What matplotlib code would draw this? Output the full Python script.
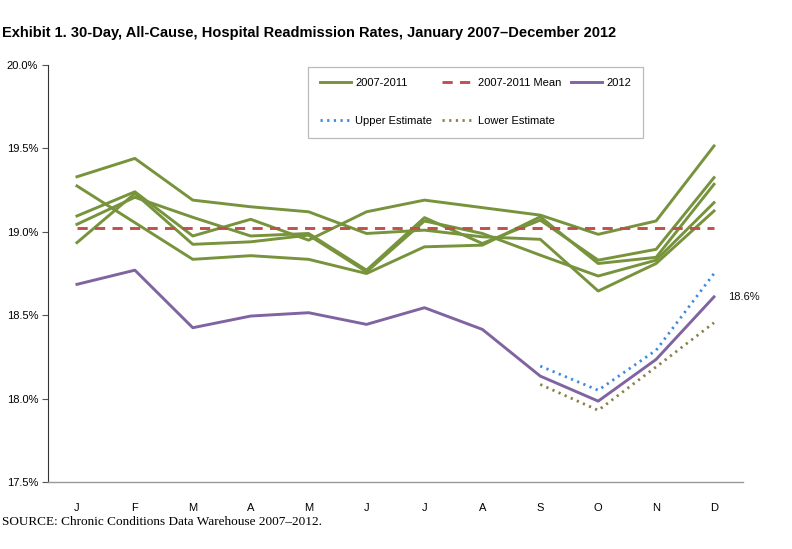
import matplotlib
matplotlib.use("Agg")
import matplotlib.pyplot as plt
from matplotlib.ticker import FuncFormatter
import numpy as np

months = ["J", "F", "M", "A", "M", "J", "J", "A", "S", "O", "N", "D"]

# 2007-2011 individual years (percent)
line_a = [19.33, 19.44, 19.19, 19.15, 19.12, 18.99, 19.01, 18.97, 18.955, 18.645, 18.81, 19.125]
line_b = [19.095, 19.24, 18.975, 19.075, 18.95, 19.12, 19.19, 19.145, 19.10, 18.985, 19.065, 19.515]
line_c = [19.275, 19.055, 18.835, 18.857, 18.835, 18.75, 18.91, 18.92, 19.09, 18.81, 18.847, 19.285]
line_d = [19.045, 19.207, 19.087, 18.975, 18.99, 18.77, 19.085, 18.93, 19.07, 18.83, 18.895, 19.325]
line_e = [18.935, 19.23, 18.925, 18.94, 18.98, 18.76, 19.065, 18.99, 18.86, 18.735, 18.83, 19.175]
mean_0711 = [19.02] * 12

rate_2012 = [18.685, 18.77, 18.425, 18.495, 18.515, 18.445, 18.545, 18.415, 18.135, 17.985, 18.235, 18.61]
est_months = [8, 9, 10, 11]
upper_est = [18.195, 18.05, 18.29, 18.75]
lower_est = [18.085, 17.93, 18.19, 18.455]

yticks = [17.5, 18.0, 18.5, 19.0, 19.5, 20.0]

GREEN = "#77933C"
RED = "#C0504D"
PURPLE = "#8064A2"
BLUE = "#3C8AE0"
OLIVE = "#8C7F4A"

plt.rcParams["font.family"] = ["Liberation Sans Narrow", "Liberation Sans", "DejaVu Sans"]

fig = plt.figure(figsize=(7.92, 5.49), dpi=100)
ax = fig.add_axes([0.0606, 0.122, 0.8775, 0.7596])

x = np.arange(len(months))
lw = 2.1
for i, ln in enumerate([line_a, line_b, line_c, line_d, line_e]):
    ax.plot(x, ln, color=GREEN, lw=lw, label="2007-2011" if i == 0 else None, zorder=3)
ax.plot(x, mean_0711, color=RED, lw=lw, ls=(0, (3.5, 2.5)), label="2007-2011 Mean", zorder=4)
ax.plot(x, rate_2012, color=PURPLE, lw=lw, label="2012", zorder=3)
ax.plot(est_months, upper_est, color=BLUE, lw=2.0, ls=(0, (0.8, 1.6)), label="Upper Estimate", zorder=3)
ax.plot(est_months, lower_est, color=OLIVE, lw=2.0, ls=(0, (0.8, 1.6)), label="Lower Estimate", zorder=3)

ax.annotate("18.6%", xy=(11, rate_2012[-1]), xytext=(10, 0), textcoords="offset points",
            fontsize=8, va="center", ha="left", color="#111111")

ax.set_xlim(-0.5, 11.5)
ax.set_ylim(17.5, 20.0)
ax.set_xticks(x)
ax.set_xticklabels(months, fontsize=8)
ax.set_yticks(yticks)
ax.yaxis.set_major_formatter(FuncFormatter(lambda v, p: f"{v:.1f}%"))
ax.tick_params(axis="y", labelsize=8, length=4, color="#555555", direction="out", pad=3)
ax.tick_params(axis="x", length=0, pad=15)
for s in ["top", "right"]:
    ax.spines[s].set_visible(False)
ax.spines["left"].set_color("#333333")
ax.spines["bottom"].set_color("#999999")
ax.spines["left"].set_linewidth(0.8)
ax.spines["bottom"].set_linewidth(1.0)

h, l = ax.get_legend_handles_labels()
order = [0, 3, 1, 4, 2]
leg = ax.legend([h[i] for i in order], [l[i] for i in order], ncol=3, loc="upper left",
                bbox_to_anchor=(0.374, 0.996), fontsize=8, frameon=True, fancybox=False,
                handlelength=2.8, handletextpad=0.4, columnspacing=0.9, labelspacing=2.5,
                borderpad=1.05, borderaxespad=0.0, edgecolor="#AAAAAA")
leg.get_frame().set_linewidth(0.9)

fig.text(0.003, 0.94, "Exhibit 1. 30-Day, All-Cause, Hospital Readmission Rates, January 2007\u2013December 2012",
         fontsize=10.5, fontweight="bold", ha="left", va="center")
fig.text(0.003, 0.049, "SOURCE: Chronic Conditions Data Warehouse 2007\u20132012.",
         fontsize=9.5, ha="left", va="center", family=["Liberation Serif", "DejaVu Serif"])

fig.savefig("out.png", dpi=100)
